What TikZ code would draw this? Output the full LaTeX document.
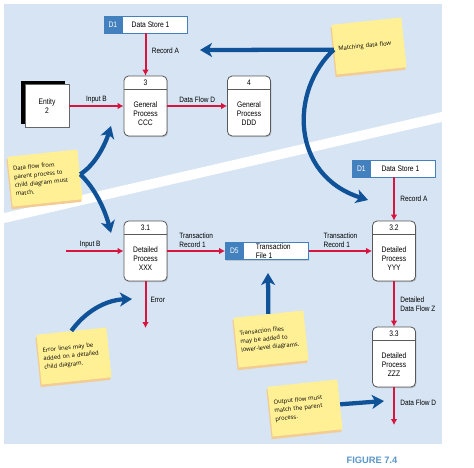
\documentclass[tikz,border=0pt]{standalone}
\usepackage{fontspec}
\setmainfont{Liberation Sans}
\newfontfamily\dfdfont{Liberation Sans}[FakeStretch=0.84]
\newfontfamily\notefont{Open Sans}
\usetikzlibrary{arrows.meta, positioning, shadows}
\definecolor{cPanel}{RGB}{214,228,243}
\definecolor{cFlow}{RGB}{214,22,62}
\definecolor{cArrow}{RGB}{16,82,152}
\definecolor{cStore}{RGB}{66,128,190}
\definecolor{cNote}{RGB}{255,240,150}
\definecolor{cNoteEdge}{RGB}{242,204,146}
\definecolor{cFig}{RGB}{88,150,202}

\begin{document}
\begin{tikzpicture}[x=0.75pt, y=-0.75pt,
    proc/.style={draw=black!65, fill=white, rounded corners=3.5pt, line width=0.6pt,
                 minimum width=32.3pt, minimum height=45pt,
                 drop shadow={shadow xshift=0.7pt, shadow yshift=-0.9pt, opacity=0.4}},
    ptext/.style={font=\dfdfont\fontsize{6}{6.9}\selectfont, align=center, inner sep=0pt},
    store/.style={draw=cStore, fill=white, line width=0.6pt, minimum width=62.3pt,
                  minimum height=12.8pt, inner sep=0pt,
                  drop shadow={shadow xshift=0.5pt, shadow yshift=-0.8pt, opacity=0.3}},
    tag/.style={draw=cStore, fill=cStore, text=white, minimum width=13.5pt,
                minimum height=12.8pt, inner sep=0pt, font=\dfdfont\fontsize{6}{7}\selectfont},
    stxt/.style={font=\dfdfont\fontsize{6}{6.9}\selectfont, align=left, inner sep=0pt},
    ent/.style={draw=black!60, fill=white, minimum width=33pt, minimum height=32.3pt,
                font=\dfdfont\fontsize{6}{6.9}\selectfont, align=center,
                drop shadow={shadow xshift=-3pt, shadow yshift=2.3pt, fill=black, opacity=1}},
    lbl/.style={font=\dfdfont\fontsize{5.8}{6.8}\selectfont, align=left, inner sep=0pt},
    flow/.style={draw=cFlow, line width=1.5pt, -{Latex[length=4.5pt, width=5pt]}},
    note/.style={fill=cNote, rotate=6, minimum width=51pt, minimum height=37.5pt,
                 text width=46pt, align=left, font=\notefont\fontsize{4.4}{6.3}\selectfont,
                 drop shadow={shadow xshift=-0.8pt, shadow yshift=-2pt, fill=cNoteEdge, opacity=1}},
    marrow/.style={draw=cArrow, line width=3.2pt, -{Stealth[length=9pt, width=10.5pt, inset=2.5pt]}}]
  \useasboundingbox (0,0) rectangle (474,467);
  % panel and the white band between the levels
  \fill[cPanel] (4,4) rectangle (442,444);
  \begin{scope}
    \clip (4,4) rectangle (442,444);
    \draw[white, line width=7.3pt] (0,219) -- (446,116);
  \end{scope}

  % data stores
  \node[store] (ds1) at (145.5,24.5) {};
  \node[tag, right=0pt of ds1.west] (ds1-id) {D1};
  \node[stxt, right=7pt of ds1-id] (ds1-t) {Data Store 1};
  \node[store] (ds1b) at (394,168.5) {};
  \node[tag, right=0pt of ds1b.west] (ds1b-id) {D1};
  \node[stxt, right=8pt of ds1b-id] (ds1b-t) {Data Store 1};
  \node[store] (d5) at (267,251) {};
  \node[tag, right=0pt of d5.west] (d5-id) {D5};
  \node[stxt, right=9pt of d5-id] (d5-t) {Transaction\\File 1};

  % processes
  \node[proc] (p3)  at (145.5,106) {};
  \node[proc] (p4)  at (249,106) {};
  \node[proc] (p31) at (145.5,251) {};
  \node[proc] (p32) at (394,251) {};
  \node[proc] (p33) at (394,357) {};
  \foreach \p/\n/\t in {p3/3/{General\\Process\\CCC}, p4/4/{General\\Process\\DDD},
                        p31/3.1/{Detailed\\Process\\XXX}, p32/3.2/{Detailed\\Process\\YYY},
                        p33/3.3/{Detailed\\Process\\ZZZ}} {
    \draw[black!65, line width=0.6pt] ([yshift=-10.5pt]\p.north west) -- ([yshift=-10.5pt]\p.north east);
    \node[ptext] (\p-n) at ([yshift=-5.25pt]\p.north) {\n};
    \node[ptext] (\p-t) at ([yshift=-5.6pt]\p.center) {\t};
  }

  \node[ent] (ent) at (47,106) {Entity\\2};

  % free ends
  \coordinate (cin)  at (66,251);
  \coordinate (cerr) at (145.5,328);
  \coordinate (cout) at (394,425);

  % data flows
  \draw[flow] (ds1) -- node[lbl, right=4pt, pos=0.4] (l-ra) {Record A} (p3);
  \draw[flow] (ent) -- node[lbl, above=1.5pt] (l-ib) {Input B} (p3);
  \draw[flow] (p3) -- node[lbl, above=1.5pt] (l-df) {Data Flow D} (p4);
  \draw[flow] (cin) -- node[lbl, above=1.5pt, pos=0.42] (l-ib2) {Input B} (p31);
  \draw[flow] (p31) -- node[lbl, above=1.5pt] (l-tr1) {Transaction\\Record 1} (d5);
  \draw[flow] (d5) -- node[lbl, above=1.5pt] (l-tr2) {Transaction\\Record 1} (p32);
  \draw[flow] (ds1b) -- node[lbl, right=4pt] (l-ra2) {Record A} (p32);
  \draw[flow] (p32) -- node[lbl, right=4pt] (l-dz) {Detailed\\Data Flow Z} (p33);
  \draw[flow] (p31) -- node[lbl, right=3pt, pos=0.4] (l-err) {Error} (cerr);
  \draw[flow] (p33) -- node[lbl, right=4pt, pos=0.4] (l-dfd) {Data Flow D} (cout);

  % sticky notes
  \node[note] (n1) at (369,46)  {Matching data flow};
  \node[note] (n2) at (45,178)  {Data flow from\\parent process to\\child diagram must\\match.};
  \node[note] (n3) at (74,356)  {Error lines may be\\added on a detailed\\child diagram.};
  \node[note] (n4) at (271,339) {Transaction files\\may be added to\\lower-level diagrams.};
  \node[note] (n5) at (305,408) {Output flow must\\match the parent\\process.};

  \coordinate (m1) at (200,50);
  \coordinate (m2) at (368,200);
  \coordinate (m3) at (111,126);
  \coordinate (m4) at (111,233);
  \coordinate (m5) at (132,299);
  \coordinate (m6) at (268,273);
  \coordinate (m7) at (384,401);
  \draw[marrow] (n1.west) -- (m1);
  \draw[marrow] (n1.west) .. controls (290,90) and (290,175) .. (m2);
  \draw[marrow] (n2.east) .. controls (95,165) and (105,145) .. (m3);
  \draw[marrow] (n2.east) .. controls (95,188) and (105,210) .. (m4);
  \draw[marrow] (n3.north) .. controls (85,312) and (105,300) .. (m5);
  \draw[marrow] (n4.north) -- (m6);
  \draw[marrow] (n5.east) -- (m7);

  \node[font=\bfseries\fontsize{7}{8}\selectfont, text=cFig] (fig) at (372,460) {FIGURE 7.4};
\end{tikzpicture}
\end{document}
